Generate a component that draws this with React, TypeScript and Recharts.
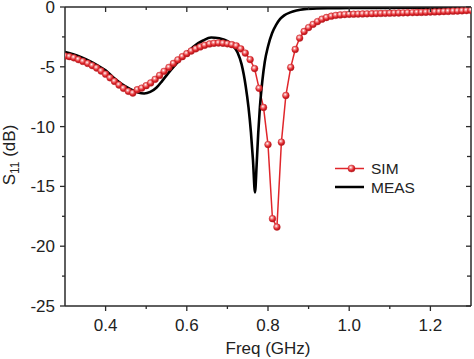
import React from "react";
import { LineChart, Line, XAxis, YAxis, Label } from "recharts";

// SIM: simulated S11
const simFreq = [
  0.3, 0.311, 0.322, 0.333, 0.344, 0.356, 0.367, 0.378, 0.389, 0.4,
  0.411, 0.422, 0.433, 0.444, 0.456, 0.467, 0.478, 0.489, 0.5, 0.511,
  0.522, 0.533, 0.544, 0.556, 0.567, 0.578, 0.589, 0.6, 0.611, 0.622,
  0.633, 0.644, 0.656, 0.667, 0.678, 0.689, 0.7, 0.711, 0.722, 0.733,
  0.744, 0.756, 0.767, 0.778, 0.789, 0.8, 0.811, 0.822, 0.833, 0.844,
  0.856, 0.867, 0.878, 0.889, 0.9, 0.911, 0.922, 0.933, 0.944, 0.956,
  0.967, 0.978, 0.989, 1.0, 1.011, 1.022, 1.033, 1.044, 1.056, 1.067,
  1.078, 1.089, 1.1, 1.111, 1.122, 1.133, 1.144, 1.156, 1.167, 1.178,
  1.189, 1.2, 1.211, 1.222, 1.233, 1.244, 1.256, 1.267, 1.278, 1.289,
  1.3,
];
const simS11 = [
  -4.1, -4.15, -4.25, -4.4, -4.55, -4.72, -4.9, -5.1, -5.35, -5.62,
  -5.92, -6.22, -6.52, -6.8, -7.05, -7.2, -6.92, -6.78, -6.58, -6.35,
  -6.05, -5.72, -5.38, -5.05, -4.72, -4.42, -4.15, -3.9, -3.68, -3.5,
  -3.34, -3.2, -3.09, -3.03, -3.01, -3.03, -3.08, -3.15, -3.25, -3.5,
  -3.85, -4.4, -5.15, -6.8, -8.4, -11.5, -17.7, -18.4, -11.3, -7.4,
  -5.05, -3.55, -2.6, -2.05, -1.72, -1.45, -1.22, -1.02, -0.88, -0.77,
  -0.7, -0.66, -0.63, -0.61, -0.6, -0.59, -0.58, -0.57, -0.56, -0.55,
  -0.54, -0.53, -0.52, -0.51, -0.5, -0.49, -0.48, -0.47, -0.46, -0.45,
  -0.44, -0.42, -0.41, -0.4, -0.38, -0.37, -0.35, -0.34, -0.32, -0.3,
  -0.28,
];

// MEAS: measured S11 (black line)
const measFreq = [
  0.3, 0.32, 0.34, 0.36, 0.38, 0.4, 0.42, 0.44, 0.46, 0.48, 0.495, 0.51,
  0.525, 0.54, 0.56, 0.58, 0.6, 0.62, 0.64, 0.66, 0.68, 0.7, 0.712, 0.725,
  0.735, 0.745, 0.752, 0.758, 0.763, 0.768, 0.772, 0.776, 0.78, 0.786,
  0.792, 0.8, 0.81, 0.82, 0.83, 0.84, 0.855, 0.87, 0.89, 0.92, 0.96, 1.0,
  1.1, 1.2, 1.3,
];
const measS11 = [
  -3.77, -3.95, -4.2, -4.5, -4.88, -5.3, -5.92, -6.45, -6.85, -7.15, -7.23,
  -7.1, -6.75, -6.15, -5.3, -4.52, -3.82, -3.22, -2.8, -2.55, -2.62, -2.85,
  -3.2, -3.8, -4.8, -6.6, -8.4, -10.5, -12.8, -15.5, -13.2, -10.5, -8.4,
  -6.2, -4.6, -3.3, -2.2, -1.5, -1.0, -0.7, -0.45, -0.3, -0.18, -0.12, -0.1,
  -0.08, -0.07, -0.06, -0.05,
];

const xTicks = [0.4, 0.5, 0.6, 0.7, 0.8, 0.9, 1.0, 1.1, 1.2];
const yTicks = [-25, -22.5, -20, -17.5, -15, -12.5, -10, -7.5, -5, -2.5, 0];

const simData = simFreq.map((f, i) => ({ f, s: simS11[i] }));
const measData = measFreq.map((f, i) => ({ f, s: measS11[i] }));

const AXIS = "#2a2a2a";
const FONT = "Arial, 'Liberation Sans', Helvetica, sans-serif";
const RED = "#e0262b";

const isMajorX = (v: number) => Math.round(v * 10) % 2 === 0;
const isMajorY = (v: number) => v % 5 === 0;

// tickSize/tickMargin are 0 so x,y land on the axis line itself
const BottomTick = ({ x, y, payload }: any) => {
  const major = isMajorX(payload.value);
  return (
    <g>
      <line x1={x} y1={y} x2={x} y2={y + (major ? 5 : 3)} stroke={AXIS} strokeWidth={1.3} />
      {major && (
        <text x={x} y={y + 25} textAnchor="middle" fontSize={17} fontFamily={FONT} fill="#222">
          {payload.value.toFixed(1)}
        </text>
      )}
    </g>
  );
};

const TopTick = ({ x, y, payload }: any) => (
  <line x1={x} y1={y} x2={x} y2={y + (isMajorX(payload.value) ? 5 : 3)} stroke={AXIS} strokeWidth={1.3} />
);

const LeftTick = ({ x, y, payload }: any) => {
  const major = isMajorY(payload.value);
  return (
    <g>
      <line x1={x - (major ? 5 : 3)} y1={y} x2={x} y2={y} stroke={AXIS} strokeWidth={1.3} />
      {major && (
        <text x={x - 10} y={y + 6} textAnchor="end" fontSize={17} fontFamily={FONT} fill="#222">
          {payload.value}
        </text>
      )}
    </g>
  );
};

const RightTick = ({ x, y, payload }: any) => (
  <line x1={x - (isMajorY(payload.value) ? 5 : 4)} y1={y} x2={x} y2={y} stroke={AXIS} strokeWidth={1.3} />
);

const Ball = (props: any) => {
  const { cx, cy, index } = props;
  if (cx == null || cy == null) return <g key={index} />;
  return <circle key={index} cx={cx} cy={cy} r={3.4} fill="url(#ball)" stroke="#c41b22" strokeWidth={0.4} />;
};

const Legend = () => (
  <svg
    width={120}
    height={40}
    style={{ position: "absolute", left: 330, top: 158 }}
  >
    <defs>
      <radialGradient id="ballLeg" cx="40%" cy="35%" r="65%">
        <stop offset="0%" stopColor="#ffffff" />
        <stop offset="30%" stopColor="#f38a8c" />
        <stop offset="65%" stopColor={RED} />
        <stop offset="100%" stopColor="#a8141a" />
      </radialGradient>
    </defs>
    <line x1={5} y1={10.5} x2={34} y2={10.5} stroke={RED} strokeWidth={1.5} />
    <circle cx={21.5} cy={10.5} r={3.6} fill="url(#ballLeg)" stroke="#c41b22" strokeWidth={0.4} />
    <text x={41} y={16} fontSize={15.5} fontFamily={FONT} fill="#222">SIM</text>
    <line x1={5} y1={29} x2={34} y2={29} stroke="#000" strokeWidth={2.5} />
    <text x={41} y={34.5} fontSize={15.5} fontFamily={FONT} fill="#222">MEAS</text>
  </svg>
);

export default function App() {
  return (
    <div style={{ position: "absolute", left: 0, top: 0, width: 474, height: 359, background: "#fff" }}>
      <LineChart width={474} height={359} margin={{ top: 6, right: 0, bottom: 0, left: 0 }}>
        <defs>
          <radialGradient id="ball" cx="40%" cy="35%" r="65%">
            <stop offset="0%" stopColor="#ffffff" />
            <stop offset="30%" stopColor="#f38a8c" />
            <stop offset="65%" stopColor={RED} />
            <stop offset="100%" stopColor="#a8141a" />
          </radialGradient>
        </defs>
        <XAxis
          dataKey="f"
          type="number"
          domain={[0.3, 1.3]}
          ticks={xTicks}
          interval={0}
          height={53}
          tickSize={0}
          tickMargin={0}
          tickLine={false}
          tick={<BottomTick />}
          axisLine={{ stroke: AXIS, strokeWidth: 1.5 }}
          allowDataOverflow
        >
          <Label
            content={() => (
              <text x={268} y={354} textAnchor="middle" fontSize={17} fontFamily={FONT} fill="#222">
                Freq (GHz)
              </text>
            )}
          />
        </XAxis>
        <XAxis
          xAxisId="top"
          orientation="top"
          type="number"
          dataKey="f"
          domain={[0.3, 1.3]}
          ticks={xTicks}
          interval={0}
          height={1}
          tickSize={0}
          tickMargin={0}
          tickLine={false}
          tick={<TopTick />}
          axisLine={{ stroke: AXIS, strokeWidth: 1.5 }}
          allowDataOverflow
        />
        <YAxis
          type="number"
          domain={[-25, 0]}
          ticks={yTicks}
          interval={0}
          width={65}
          tickSize={0}
          tickMargin={0}
          tickLine={false}
          tick={<LeftTick />}
          axisLine={{ stroke: AXIS, strokeWidth: 1.5 }}
          allowDataOverflow
        >
          <Label
            content={() => (
              <text transform="translate(15,155) rotate(-90)" textAnchor="middle" fontSize={17} fontFamily={FONT} fill="#222">
                S<tspan fontSize={12} dy={4}>11</tspan>
                <tspan dy={-4}> (dB)</tspan>
              </text>
            )}
          />
        </YAxis>
        <YAxis
          yAxisId="right"
          orientation="right"
          type="number"
          domain={[-25, 0]}
          ticks={yTicks}
          interval={0}
          width={3}
          tickSize={0}
          tickMargin={0}
          tickLine={false}
          tick={<RightTick />}
          axisLine={{ stroke: AXIS, strokeWidth: 1.5 }}
          allowDataOverflow
        />
        <Line
          data={simData}
          dataKey="s"
          type="linear"
          stroke={RED}
          strokeWidth={1.5}
          dot={Ball}
          activeDot={false}
          isAnimationActive={false}
        />
        <Line
          data={measData}
          dataKey="s"
          type="monotone"
          stroke="#000"
          strokeWidth={2.6}
          dot={false}
          activeDot={false}
          isAnimationActive={false}
        />
      </LineChart>
      <Legend />
    </div>
  );
}
